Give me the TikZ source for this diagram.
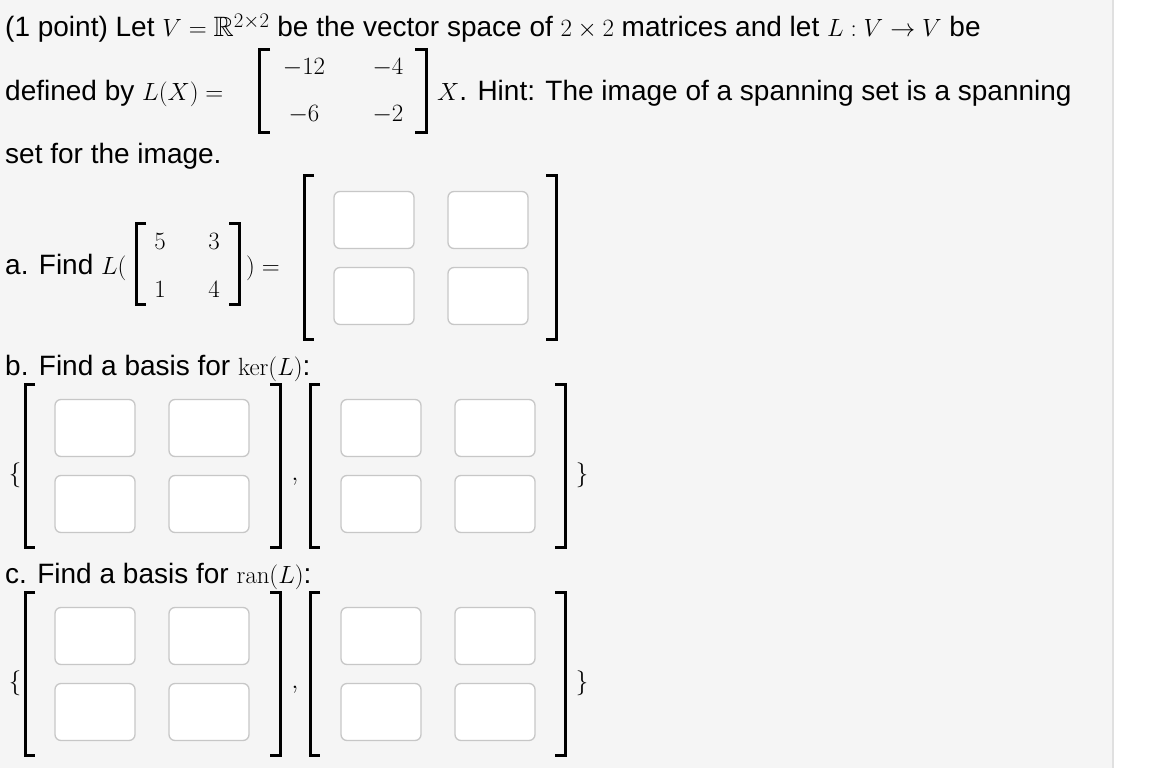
\documentclass[tikz,border=0pt]{standalone}
\usepackage[no-math]{fontspec}
\setmainfont{Liberation Sans}
\usepackage{amsmath,amssymb}
\begin{document}
\begin{tikzpicture}[x=1pt,y=-1pt,
  txt/.style={anchor=base west,inner sep=0pt,font=\fontsize{28}{32}\selectfont},
  num/.style={inner sep=0pt,font=\fontsize{30}{34}\selectfont},
  br/.style={line width=3pt,line cap=butt},
  ibox/.style={draw=black!22,fill=white,line width=1.3pt,rounded corners=6pt,minimum width=80pt,minimum height=57pt,inner sep=0pt}]
\useasboundingbox (0,0) rectangle (1150,768);
\fill[black!4] (0,0) rectangle (1113,768);
\draw[black!12,line width=1.5pt] (1113,0) -- (1113,768);
% line 1
\node[txt] (l1) at (5,37) {(1 point) Let $V=\mathbb{R}^{2\times2}$ be the vector space of $2\times2$ matrices and let $L:V\to V$ be};
% line 2
\node[txt] (l2) at (5,100) {defined by $L(X)=$};
\draw[br] (270,50) -- (259,50) -- (259,132) -- (270,132);
\draw[br] (415,50) -- (426,50) -- (426,132) -- (415,132);
\node[num] (m11) at (304,68) {$-12$};
\node[num] (m12) at (388,68) {$-4$};
\node[num] (m21) at (304,115) {$-6$};
\node[num] (m22) at (388,115) {$-2$};
\node[txt] (l2b) at (437,100) {$X$. Hint: The image of a spanning set is a spanning};
\node[txt] (l3) at (5,163) {set for the image.};
% part a
\node[txt] (pa) at (5,274) {a. Find $L($};
\draw[br] (146,223) -- (136,223) -- (136,304) -- (146,304);
\draw[br] (229,223) -- (239,223) -- (239,304) -- (229,304);
\node[num] (s11) at (160,241) {$5$};
\node[num] (s12) at (214,241) {$3$};
\node[num] (s21) at (160,289) {$1$};
\node[num] (s22) at (214,289) {$4$};
\node[txt] (pa2) at (246,274) {$)=$};
\draw[br] (314,175) -- (304,175) -- (304,339) -- (314,339);
\draw[br] (546,175) -- (556,175) -- (556,339) -- (546,339);
\foreach \c/\x in {1/374,2/488}
  \foreach \r/\y in {1/220,2/296}
    \node[ibox] (a\r\c) at (\x,\y) {};
% part b and c
\node[txt] (pb) at (5,375) {b. Find a basis for $\ker(L)$:};
\node[txt] (pc) at (5,583) {c. Find a basis for $\operatorname{ran}(L)$:};
\foreach \s/\o in {k/0,r/208}{
  \node[num] (\s ob) at (15,475+\o) {$\{$};
  \node[num] (\s cb) at (582,475+\o) {$\}$};
  \node[num] (\s cm) at (295,482+\o) {$,$};
  \foreach \m/\L/\R in {1/25/280,2/310/565}{
    \draw[br] (\L+10,384+\o) -- (\L,384+\o) -- (\L,547+\o) -- (\L+10,547+\o);
    \draw[br] (\R-10,384+\o) -- (\R,384+\o) -- (\R,547+\o) -- (\R-10,547+\o);
  }
  \foreach \m/\xa/\xb in {1/95/209,2/381/495}
    \foreach \r/\y in {1/428,2/504}{
      \node[ibox] (\s\m\r a) at (\xa,\y+\o) {};
      \node[ibox] (\s\m\r b) at (\xb,\y+\o) {};
    }
}
\end{tikzpicture}
\end{document}
